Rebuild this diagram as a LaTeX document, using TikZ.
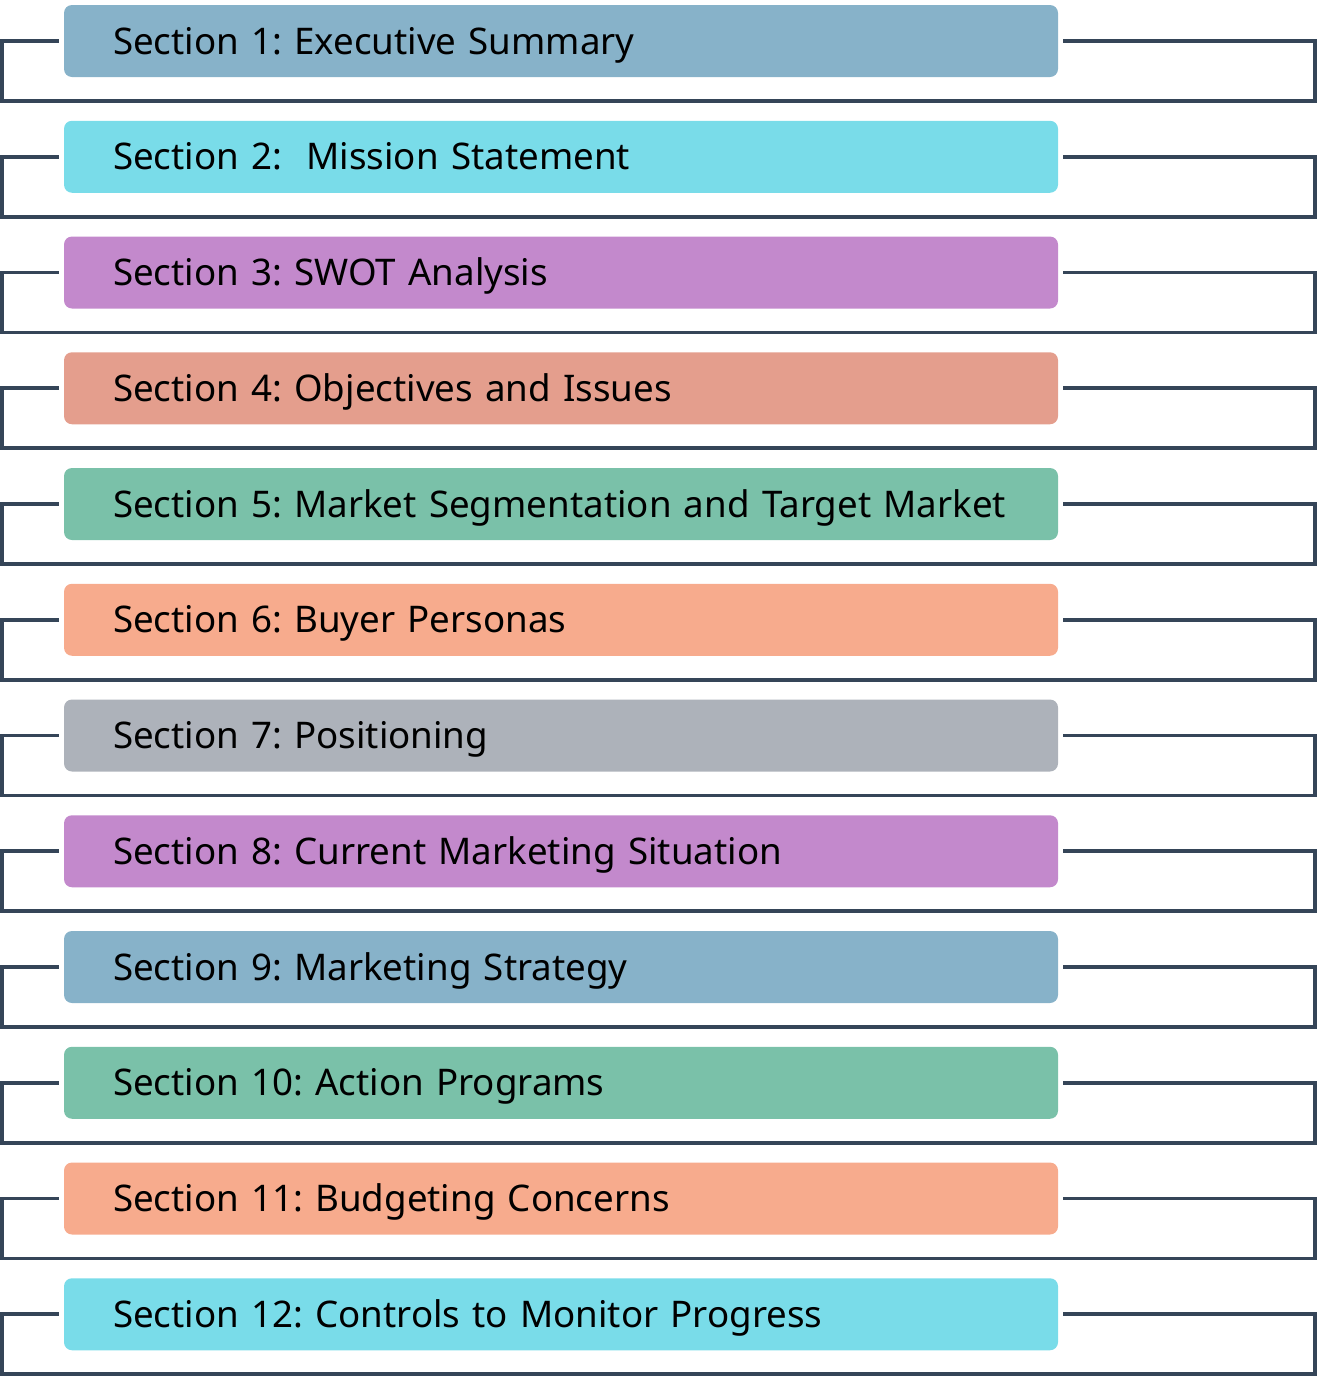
\documentclass[tikz,border=0pt]{standalone}
\usepackage{fontspec}
\setmainfont{Noto Sans}
\frenchspacing
\definecolor{linecol}{HTML}{354558}
\definecolor{bluegray}{HTML}{87B2C9}
\definecolor{cyanbox}{HTML}{79DCE9}
\definecolor{purplebox}{HTML}{C389CC}
\definecolor{salmonbox}{HTML}{E49E8D}
\definecolor{greenbox}{HTML}{7AC1A9}
\definecolor{peachbox}{HTML}{F7AB8D}
\definecolor{graybox}{HTML}{ADB2BA}
\tikzset{
  sectionbox/.style={fill=#1, rounded corners=4pt, minimum width=497pt,
    minimum height=36pt, inner xsep=24.5pt, text width=448pt, align=left,
    text height=13.2pt, text depth=0pt,
    font=\fontsize{18.35pt}{22pt}\selectfont},
  bracket/.style={draw=linecol, line width=1.9pt}
}
\begin{document}
\begin{tikzpicture}[x=0.5pt, y=-0.5pt]

    % --- Page frame ---
    \useasboundingbox (0,0) rectangle (1318,1377);

    % --- Section boxes and their brackets ---
    \foreach \i/\col/\txt in {
        1/bluegray/{Section 1: Executive Summary},
        2/cyanbox/{Section 2:\ \ Mission Statement},
        3/purplebox/{Section 3: SWOT Analysis},
        4/salmonbox/{Section 4: Objectives and Issues},
        5/greenbox/{Section 5: Market Segmentation and Target Market},
        6/peachbox/{Section 6: Buyer Personas},
        7/graybox/{Section 7: Positioning},
        8/purplebox/{Section 8: Current Marketing Situation},
        9/bluegray/{Section 9: Marketing Strategy},
        10/greenbox/{Section 10: Action Programs},
        11/peachbox/{Section 11: Budgeting Concerns},
        12/cyanbox/{Section 12: Controls to Monitor Progress}} {
      \pgfmathsetmacro{\yc}{41+(\i-1)*115.75}

      % box of the section
      \node[sectionbox=\col] (s\i) at (561,\yc) {\mbox{\txt}};

      % corners of the bracket
      \coordinate (tl\i) at (2,\yc);
      \coordinate (bl\i) at (2,\yc+60);
      \coordinate (br\i) at (1315,\yc+60);
      \coordinate (tr\i) at (1315,\yc);

      % bracket round the box
      \draw[bracket] ([xshift=-2.5pt]s\i.west) -- (tl\i) -- (bl\i)
        -- (br\i) -- (tr\i) -- ([xshift=2.5pt]s\i.east);
    }

\end{tikzpicture}
\end{document}
